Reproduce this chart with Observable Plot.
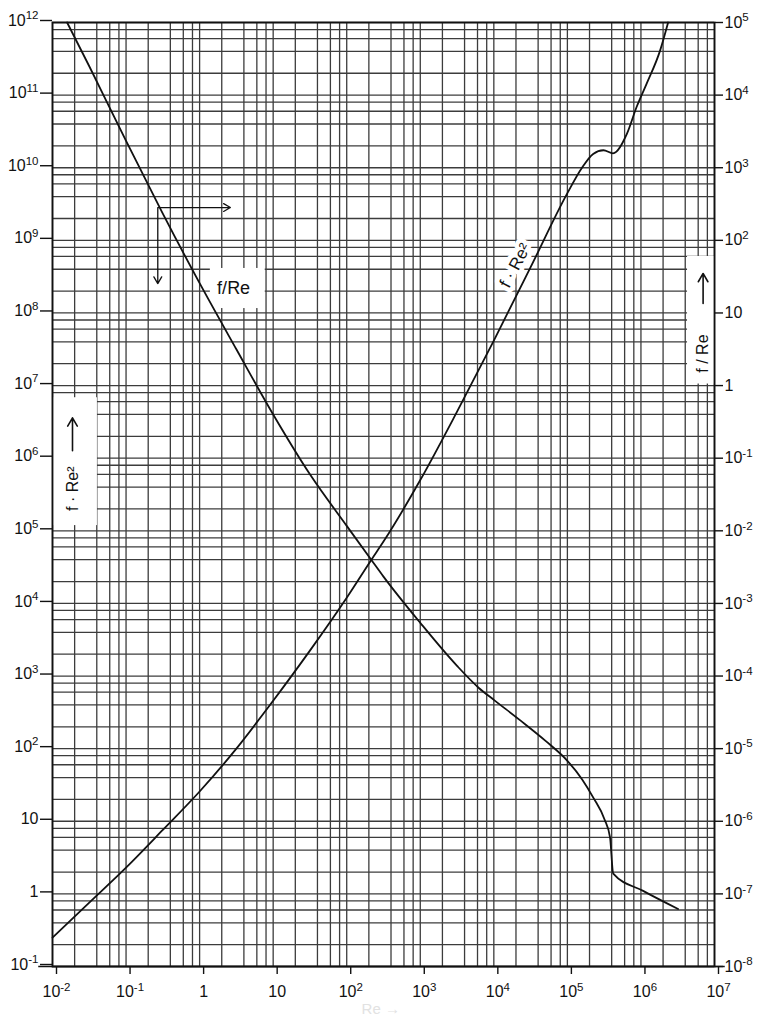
<!DOCTYPE html>
<html>
<head>
<meta charset="utf-8">
<script src="https://cdn.jsdelivr.net/npm/d3@7"></script>
<script src="https://cdn.jsdelivr.net/npm/@observablehq/plot@0.6"></script>
<style>
  body { margin: 0; background: #fff; }
  #chart svg { display: block; }
</style>
</head>
<body>
<div id="chart"></div>
<script>
// ---------- data ----------
// f·Re² against Re (left axis)
const reCurveA = [0.01, 0.0316, 0.1, 0.316, 1, 3.16, 10, 31.6, 100, 219, 316, 1000, 3162, 1e4, 31623,
  1e5, 1.58e5, 2.24e5, 3.09e5, 4.17e5, 6.46e5, 8.7e5, 1.2e6, 1.82e6, 2.34e6];
const fRe2 = [0.25, 0.76, 2.3, 7.6, 25.7, 100, 457, 2240, 1.2e4, 4.07e4, 7.1e4, 5.0e5, 4.37e6, 4.17e7, 4.27e8,
  4.47e9, 1.0e10, 1.55e10, 1.74e10, 1.58e10, 2.95e10, 6.8e10, 1.45e11, 4.1e11, 1e12];

// f/Re against Re (right axis)
const reCurveB = [0.0158, 0.0316, 0.1, 0.316, 1, 3.16, 10, 31.6, 100, 219, 316, 1000, 3162, 6310, 1e4,
  22900, 50000, 1e5, 1.58e5, 2.26e5, 3.2e5, 3.8e5, 4.2e5, 1.07e6, 3.2e6];
const fOverRe = [1e5, 2.5e4, 2340, 234, 25.7, 3.16, 0.40, 0.060, 0.0117, 3.9e-3, 2.34e-3, 5.4e-4, 1.38e-4, 6.8e-5, 4.7e-5,
  2.45e-5, 1.29e-5, 6.8e-6, 3.8e-6, 2.1e-6, 1.06e-6, 6.0e-7, 1.9e-7, 1.1e-7, 6.2e-8];

// tick values
const xTickValues = [1e-2, 1e-1, 1, 10, 1e2, 1e3, 1e4, 1e5, 1e6, 1e7];
const leftTickValues = [1e-1, 1, 10, 1e2, 1e3, 1e4, 1e5, 1e6, 1e7, 1e8, 1e9, 1e10, 1e11, 1e12];
const rightTickValues = [1e-8, 1e-7, 1e-6, 1e-5, 1e-4, 1e-3, 1e-2, 1e-1, 1, 10, 1e2, 1e3, 1e4, 1e5];
const gridMultipliers = [1, 2, 4, 6, 8];

// texts
const labelCurveB = "f/Re";
const labelCurveA = "f · Re²";
const labelLeftAxis = "f · Re²";
const labelRightAxis = "f / Re";
const labelXAxis = "Re \u2192";

// ---------- build ----------
const RIGHT_TO_LEFT = 1e12 / 1e5; // right axis 10^5 sits at left axis 10^12

const seriesA = reCurveA.map((re, i) => ({re, v: fRe2[i]}));
const seriesB = reCurveB.map((re, i) => ({re, v: fOverRe[i] * RIGHT_TO_LEFT}));

function logGrid(lo, hi) {
  const out = [];
  for (let k = lo; k < hi; k++) for (const m of gridMultipliers) out.push(m * Math.pow(10, k));
  out.push(Math.pow(10, hi));
  return out;
}
const xGrid = logGrid(-2, 7);
const yGrid = logGrid(-1, 12);

function expLabel(v) {
  const k = Math.round(Math.log10(v));
  if (k === 0) return "1";
  if (k === 1) return "10";
  return "10|" + k;
}

const ink = "#111";
const gridInk = "#3c3c3c";

const plot = Plot.plot({
  width: 768,
  height: 1024,
  marginLeft: 52,
  marginRight: 54,
  marginTop: 22,
  marginBottom: 58,
  style: {fontFamily: "'Liberation Sans', Arial, sans-serif", fontSize: "16px", background: "#fff", color: ink},
  x: {type: "log", domain: [1e-2, 1e7]},
  y: {type: "log", domain: [1e-1, 1e12]},
  marks: [
    Plot.ruleX(xGrid, {stroke: gridInk, strokeWidth: 1.3}),
    Plot.ruleY(yGrid, {stroke: gridInk, strokeWidth: 1.3}),
    // white label boxes that interrupt the grid
    Plot.rect([{x1: 1.40, x2: 7.8, y1: 1.15e8, y2: 4.1e8}], {x1: "x1", x2: "x2", y1: "y1", y2: "y2", fill: "white"}),
    Plot.rect([{x1: 0.01, x2: 0.0408, y1: 1.18e5, y2: 6.8e6}], {x1: "x1", x2: "x2", y1: "y1", y2: "y2", fill: "white"}),
    Plot.rect([{x1: 4.3e6, x2: 1e7, y1: 1.05e7, y2: 6.0e8}], {x1: "x1", x2: "x2", y1: "y1", y2: "y2", fill: "white"}),
    Plot.frame({stroke: ink, strokeWidth: 1.8}),
    Plot.ruleY([1e-1], {x1: 0.0065, x2: 1.4e7, stroke: ink, strokeWidth: 1.6}),
    // curves
    Plot.line(seriesA, {x: "re", y: "v", curve: "monotone-x", stroke: ink, strokeWidth: 1.8}),
    Plot.line(seriesB, {x: "re", y: "v", curve: "monotone-x", stroke: ink, strokeWidth: 1.8}),
    // axes
    Plot.axisX({ticks: xTickValues, tickFormat: expLabel, tickSize: 8, tickPadding: 11, dx: 4,
      label: null, stroke: ink, strokeWidth: 1.4}),
    Plot.axisY({ticks: leftTickValues, tickFormat: expLabel, tickSize: 12, tickPadding: 2, dy: -2,
      label: null, stroke: ink, strokeWidth: 1.4}),
    Plot.axisY({anchor: "right", ticks: rightTickValues.map(v => v * RIGHT_TO_LEFT),
      tickFormat: d => expLabel(d / RIGHT_TO_LEFT), tickSize: 8, tickPadding: 2,
      label: null, stroke: ink, strokeWidth: 1.4}),
    // annotations
    Plot.text([labelCurveB], {x: 2.9, y: 2.2e8, text: d => d, fontSize: 18, fill: ink}),
    Plot.text([labelCurveA], {x: 1.95e4, y: 4.5e8, text: d => d, fontSize: 17, rotate: -62,
      fill: ink, stroke: "white", strokeWidth: 9}),
    Plot.text([labelLeftAxis], {x: 0.0187, y: 3.8e5, text: d => d, fontSize: 16, rotate: -90, fill: ink}),
    Plot.text([labelRightAxis], {x: 7.0e6, y: 2.76e7, text: d => d, fontSize: 16, rotate: -90, fill: ink}),
    Plot.arrow([0], {x1: 0.0187, x2: 0.0187, y1: 1.27e6, y2: 3.6e6, stroke: ink, strokeWidth: 1.6, headLength: 9}),
    Plot.arrow([0], {x1: 7.0e6, x2: 7.0e6, y1: 1.35e8, y2: 3.5e8, stroke: ink, strokeWidth: 1.6, headLength: 9}),
    Plot.arrow([0], {x1: 0.275, x2: 2.62, y1: 2.83e9, y2: 2.83e9, stroke: ink, strokeWidth: 1.3, headLength: 9}),
    Plot.arrow([0], {x1: 0.27, x2: 0.27, y1: 2.83e9, y2: 2.54e8, stroke: ink, strokeWidth: 1.3, headLength: 9}),
    Plot.text([labelXAxis], {x: 290, frameAnchor: "bottom", dy: 43, lineAnchor: "middle",
      text: d => d, fontSize: 15, fill: "#e2e2e2"})
  ]
});

// superscript exponents in tick labels
const ns = "http://www.w3.org/2000/svg";
plot.querySelectorAll("text").forEach(t => {
  const s = t.textContent;
  if (s.includes("|")) {
    const [base, exp] = s.split("|");
    t.textContent = "";
    const a = document.createElementNS(ns, "tspan");
    a.textContent = base;
    const b = document.createElementNS(ns, "tspan");
    b.setAttribute("dy", "-0.55em");
    b.setAttribute("font-size", "72%");
    b.textContent = exp;
    t.append(a, b);
  }
});

document.getElementById("chart").append(plot);
</script>
</body>
</html>
